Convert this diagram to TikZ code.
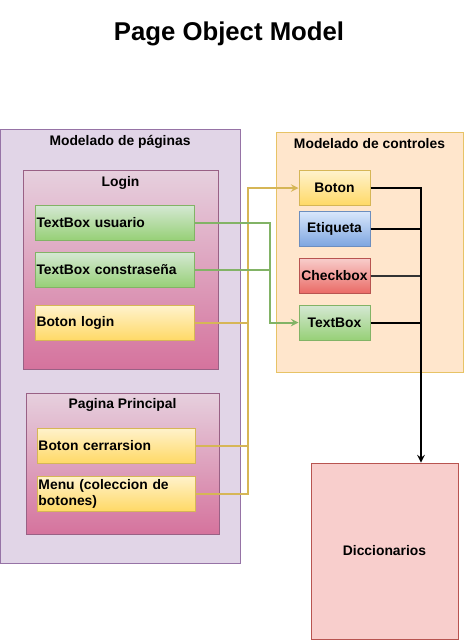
\documentclass[tikz,border=0pt]{standalone}
\usepackage{fontspec}
\setmainfont{Liberation Sans}
\usetikzlibrary{calc}
\definecolor{lilaF}{HTML}{E1D5E7}\definecolor{lilaL}{HTML}{9673A6}
\definecolor{rosaA}{HTML}{E6D0DE}\definecolor{rosaB}{HTML}{D5739D}\definecolor{rosaL}{HTML}{996185}
\definecolor{verdeA}{HTML}{D5E8D4}\definecolor{verdeB}{HTML}{97D077}\definecolor{verdeL}{HTML}{82B366}
\definecolor{amaA}{HTML}{FFF2CC}\definecolor{amaB}{HTML}{FFD966}\definecolor{amaL}{HTML}{D6B656}
\definecolor{azulA}{HTML}{DAE8FC}\definecolor{azulB}{HTML}{7EA6E0}\definecolor{azulL}{HTML}{6C8EBF}
\definecolor{rojoA}{HTML}{F8CECC}\definecolor{rojoB}{HTML}{EA6B66}\definecolor{rojoL}{HTML}{B85450}
\definecolor{naraF}{HTML}{FFE6CC}\definecolor{naraL}{HTML}{D79B00}
\tikzset{
	caja/.style={draw, rectangle, inner sep=0pt, line width=0.75pt},
	campo/.style={caja, minimum width=119.25pt, minimum height=26.25pt, text width=117pt, align=left, inner xsep=1.1pt, font=\bfseries\fontsize{10.4}{12}\selectfont},
	ctrl/.style={caja, minimum width=53.25pt, minimum height=26.25pt, font=\bfseries\fontsize{10.4}{12}\selectfont},
	titulo/.style={font=\bfseries\fontsize{10.4}{12}\selectfont},
	verde/.style={top color=verdeA, bottom color=verdeB, draw=verdeL},
	amarillo/.style={top color=amaA, bottom color=amaB, draw=amaL},
	enlace/.style={line width=1.5pt}
}
\begin{document}
\begin{tikzpicture}[x=0.75pt, y=-0.75pt]
		%%%%% START %%%%%
		\useasboundingbox (0,0) rectangle (464,640);
		\node[font=\bfseries\fontsize{19.3}{22}\selectfont] (titulo) at (229,34) {Page Object Model};
		
		\node[caja, fill=lilaF, draw=lilaL, minimum width=180pt, minimum height=325.5pt] (paginas) at (120,346) {};
		\node[titulo] (paginasT) at (120,142) {Modelado de páginas};
		
		\node[caja, top color=rosaA, bottom color=rosaB, draw=rosaL, minimum width=146.25pt, minimum height=149.25pt] (login) at (120.5,269.5) {};
		\node[titulo] (loginT) at (120.5,183) {Login};
		\node[campo, verde] (usuario) at (114.5,222.5) {TextBox usuario};
		\node[campo, verde] (clave) at (114.5,269.5) {TextBox constraseña};
		\node[campo, amarillo] (blogin) at (114.5,323) {Boton login};
		
		\node[caja, top color=rosaA, bottom color=rosaB, draw=rosaL, minimum width=144.75pt, minimum height=105.75pt] (principal) at (122.5,463.5) {};
		\node[titulo] (principalT) at (122.5,405) {Pagina Principal};
		\node[campo, amarillo, minimum width=118.5pt, text width=116.25pt] (cerrar) at (116,445.5) {Boton cerrarsion};
		\node[campo, amarillo, minimum width=118.5pt, text width=116.25pt] (menu) at (116,493.5) {Menu (coleccion de\\botones)};
		
		\node[caja, fill=naraF, draw=naraL!60, minimum width=140.25pt, minimum height=180pt] (controles) at (369.5,252) {};
		\node[titulo] (controlesT) at (369.5,144) {Modelado de controles};
		\node[ctrl, amarillo] (boton) at (334.5,188) {Boton};
		\node[ctrl, top color=azulA, bottom color=azulB, draw=azulL] (etiqueta) at (334.5,228.5) {Etiqueta};
		\node[ctrl, top color=rojoA, bottom color=rojoB, draw=rojoL] (checkbox) at (334.5,275.5) {Checkbox};
		\node[ctrl, verde] (textbox) at (334.5,322.5) {TextBox};
		
		\node[caja, fill=rojoA, draw=rojoL, minimum width=110.25pt, minimum height=132pt, font=\bfseries\fontsize{10.4}{12}\selectfont] (dicc) at (384.5,551) {Diccionarios};
		
		% buses
		\coordinate (ybus) at (248,0);
		\coordinate (gbus) at (270,0);
		\coordinate (kbus) at (421,0);
		
		\draw[enlace, amaL] (blogin.east) -- (blogin.east -| ybus);
		\draw[enlace, amaL] (cerrar.east) -- (cerrar.east -| ybus);
		\draw[enlace, amaL, -stealth] (menu.east) -- (menu.east -| ybus) |- (boton.west);
		
		\draw[enlace, verdeL] (clave.east) -- (clave.east -| gbus);
		\draw[enlace, verdeL, -stealth] (usuario.east) -- (usuario.east -| gbus) |- (textbox.west);
		
		\draw[enlace] (etiqueta.east) -- (etiqueta.east -| kbus);
		\draw[enlace, black!80] (checkbox.east) -- (checkbox.east -| kbus);
		\draw[enlace] (textbox.east) -- (textbox.east -| kbus);
		\draw[enlace, -stealth] (boton.east) -| (kbus |- dicc.north);
		%%%%% END %%%%%
	\end{tikzpicture}
\end{document}
